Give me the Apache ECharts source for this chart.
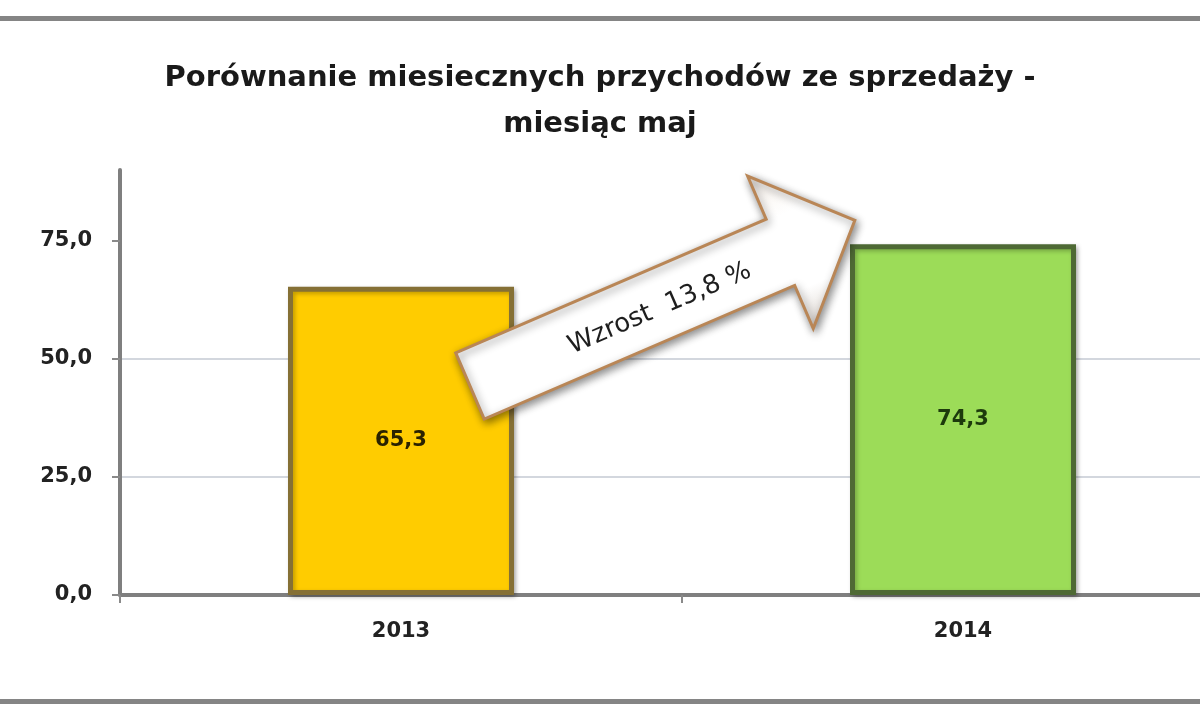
<!DOCTYPE html>
<html lang="pl">
<head>
<meta charset="UTF-8">
<title>Porównanie przychodów</title>
<script src="https://cdn.jsdelivr.net/npm/echarts@6/dist/echarts.min.js"></script>
<style>
  html, body { margin: 0; padding: 0; background: #fff; }
  #box { width: 1200px; height: 716px; }
</style>
</head>
<body>
<div id="box"></div>
<script>
// dane wykresu
var years = ['2013', '2014'];
var values = [65.3, 74.3];
var barColors = ['#ffcc00', '#9cdc58'];
var barBorders = ['#857035', '#4e6934'];
var labelColors = ['#2a2200', '#1d3a0c'];
var yTicks = [0, 25, 50, 75];
var arrowText = 'Wzrost  13,8 %';

function pl(v) {
    return v.toFixed(1).replace('.', ',');
}

var myChart = echarts.init(document.getElementById('box'));

var barData = [];
for (var i = 0; i < values.length; i++) {
    barData.push({
        value: values[i],
        itemStyle: {
            color: barColors[i],
            borderColor: barBorders[i],
            borderWidth: 5,
            shadowColor: 'rgba(0,0,0,0.25)',
            shadowBlur: 4,
            shadowOffsetX: 2,
            shadowOffsetY: 2
        },
        label: { color: labelColors[i] }
    });
}

var option = {
    animation: false,
    backgroundColor: '#fff',
    title: {
        text: 'Porównanie miesiecznych przychodów ze sprzedaży -\nmiesiąc maj',
        left: 'center',
        top: 50,
        textStyle: {
            fontFamily: 'DejaVu Sans',
            fontWeight: 'bold',
            fontSize: 29,
            lineHeight: 46,
            color: '#1a1a1a'
        }
    },
    // siatka wychodzi poza prawą krawędź jak w oryginale
    grid: { left: 120, width: 1124, top: 170, bottom: 121, outerBoundsMode: 'none' },
    xAxis: {
        type: 'category',
        data: years,
        axisLine: { lineStyle: { color: '#7f7f7f', width: 4 } },
        axisTick: { show: true, length: 8, lineStyle: { color: '#8a8a8a', width: 2 } },
        axisLabel: {
            margin: 26,
            fontFamily: 'DejaVu Sans',
            fontWeight: 'bold',
            fontSize: 21,
            color: '#222'
        }
    },
    yAxis: {
        type: 'value',
        min: 0,
        max: 90,
        interval: 25,
        axisLine: { show: true, lineStyle: { color: '#7f7f7f', width: 4 } },
        axisTick: { show: true, length: 8, customValues: yTicks, lineStyle: { color: '#8a8a8a', width: 2 } },
        axisLabel: {
            customValues: yTicks,
            margin: 28,
            fontFamily: 'DejaVu Sans',
            fontWeight: 'bold',
            fontSize: 21,
            color: '#222',
            formatter: function (v) { return pl(v); }
        },
        splitLine: { show: true, showMaxLine: false, lineStyle: { color: '#d3d7de', width: 2 } }
    },
    series: [{
        type: 'bar',
        data: barData,
        barWidth: 226,
        label: {
            show: true,
            position: 'inside',
            fontFamily: 'DejaVu Sans',
            fontWeight: 'bold',
            fontSize: 21,
            formatter: function (p) { return pl(p.value); }
        }
    }],
    graphic: [
        // ramka - górna i dolna linia
        { type: 'rect', left: 0, top: 16, shape: { width: 1200, height: 5 }, style: { fill: '#858585' }, silent: true },
        { type: 'rect', left: 0, top: 699, shape: { width: 1200, height: 5 }, style: { fill: '#858585' }, silent: true },
        // strzałka "Wzrost"
        {
            type: 'group',
            x: 470,
            y: 386,
            rotation: 23.3 * Math.PI / 180,
            z: 100,
            children: [
                {
                    type: 'polygon',
                    z: 100,
                    shape: { points: [[0, -36], [338, -36], [338, -83], [419, 0], [338, 83], [338, 36], [0, 36]] },
                    style: {
                        fill: new echarts.graphic.LinearGradient(0, 0, 0, 1, [
                            { offset: 0, color: '#f6efe8' },
                            { offset: 0.3, color: '#ffffff' },
                            { offset: 0.75, color: '#ffffff' },
                            { offset: 1, color: '#ddd6d0' }
                        ]),
                        stroke: '#b98656',
                        lineWidth: 3,
                        shadowColor: 'rgba(0,0,0,0.45)',
                        shadowBlur: 8,
                        shadowOffsetX: 2,
                        shadowOffsetY: 3
                    }
                },
                {
                    type: 'text',
                    z: 101,
                    x: 205,
                    y: 4,
                    style: {
                        text: arrowText,
                        fontFamily: 'DejaVu Sans',
                        fontSize: 26,
                        fill: '#1e1e1e',
                        align: 'center',
                        verticalAlign: 'middle'
                    }
                }
            ]
        }
    ]
};

myChart.setOption(option);
</script>
</body>
</html>
